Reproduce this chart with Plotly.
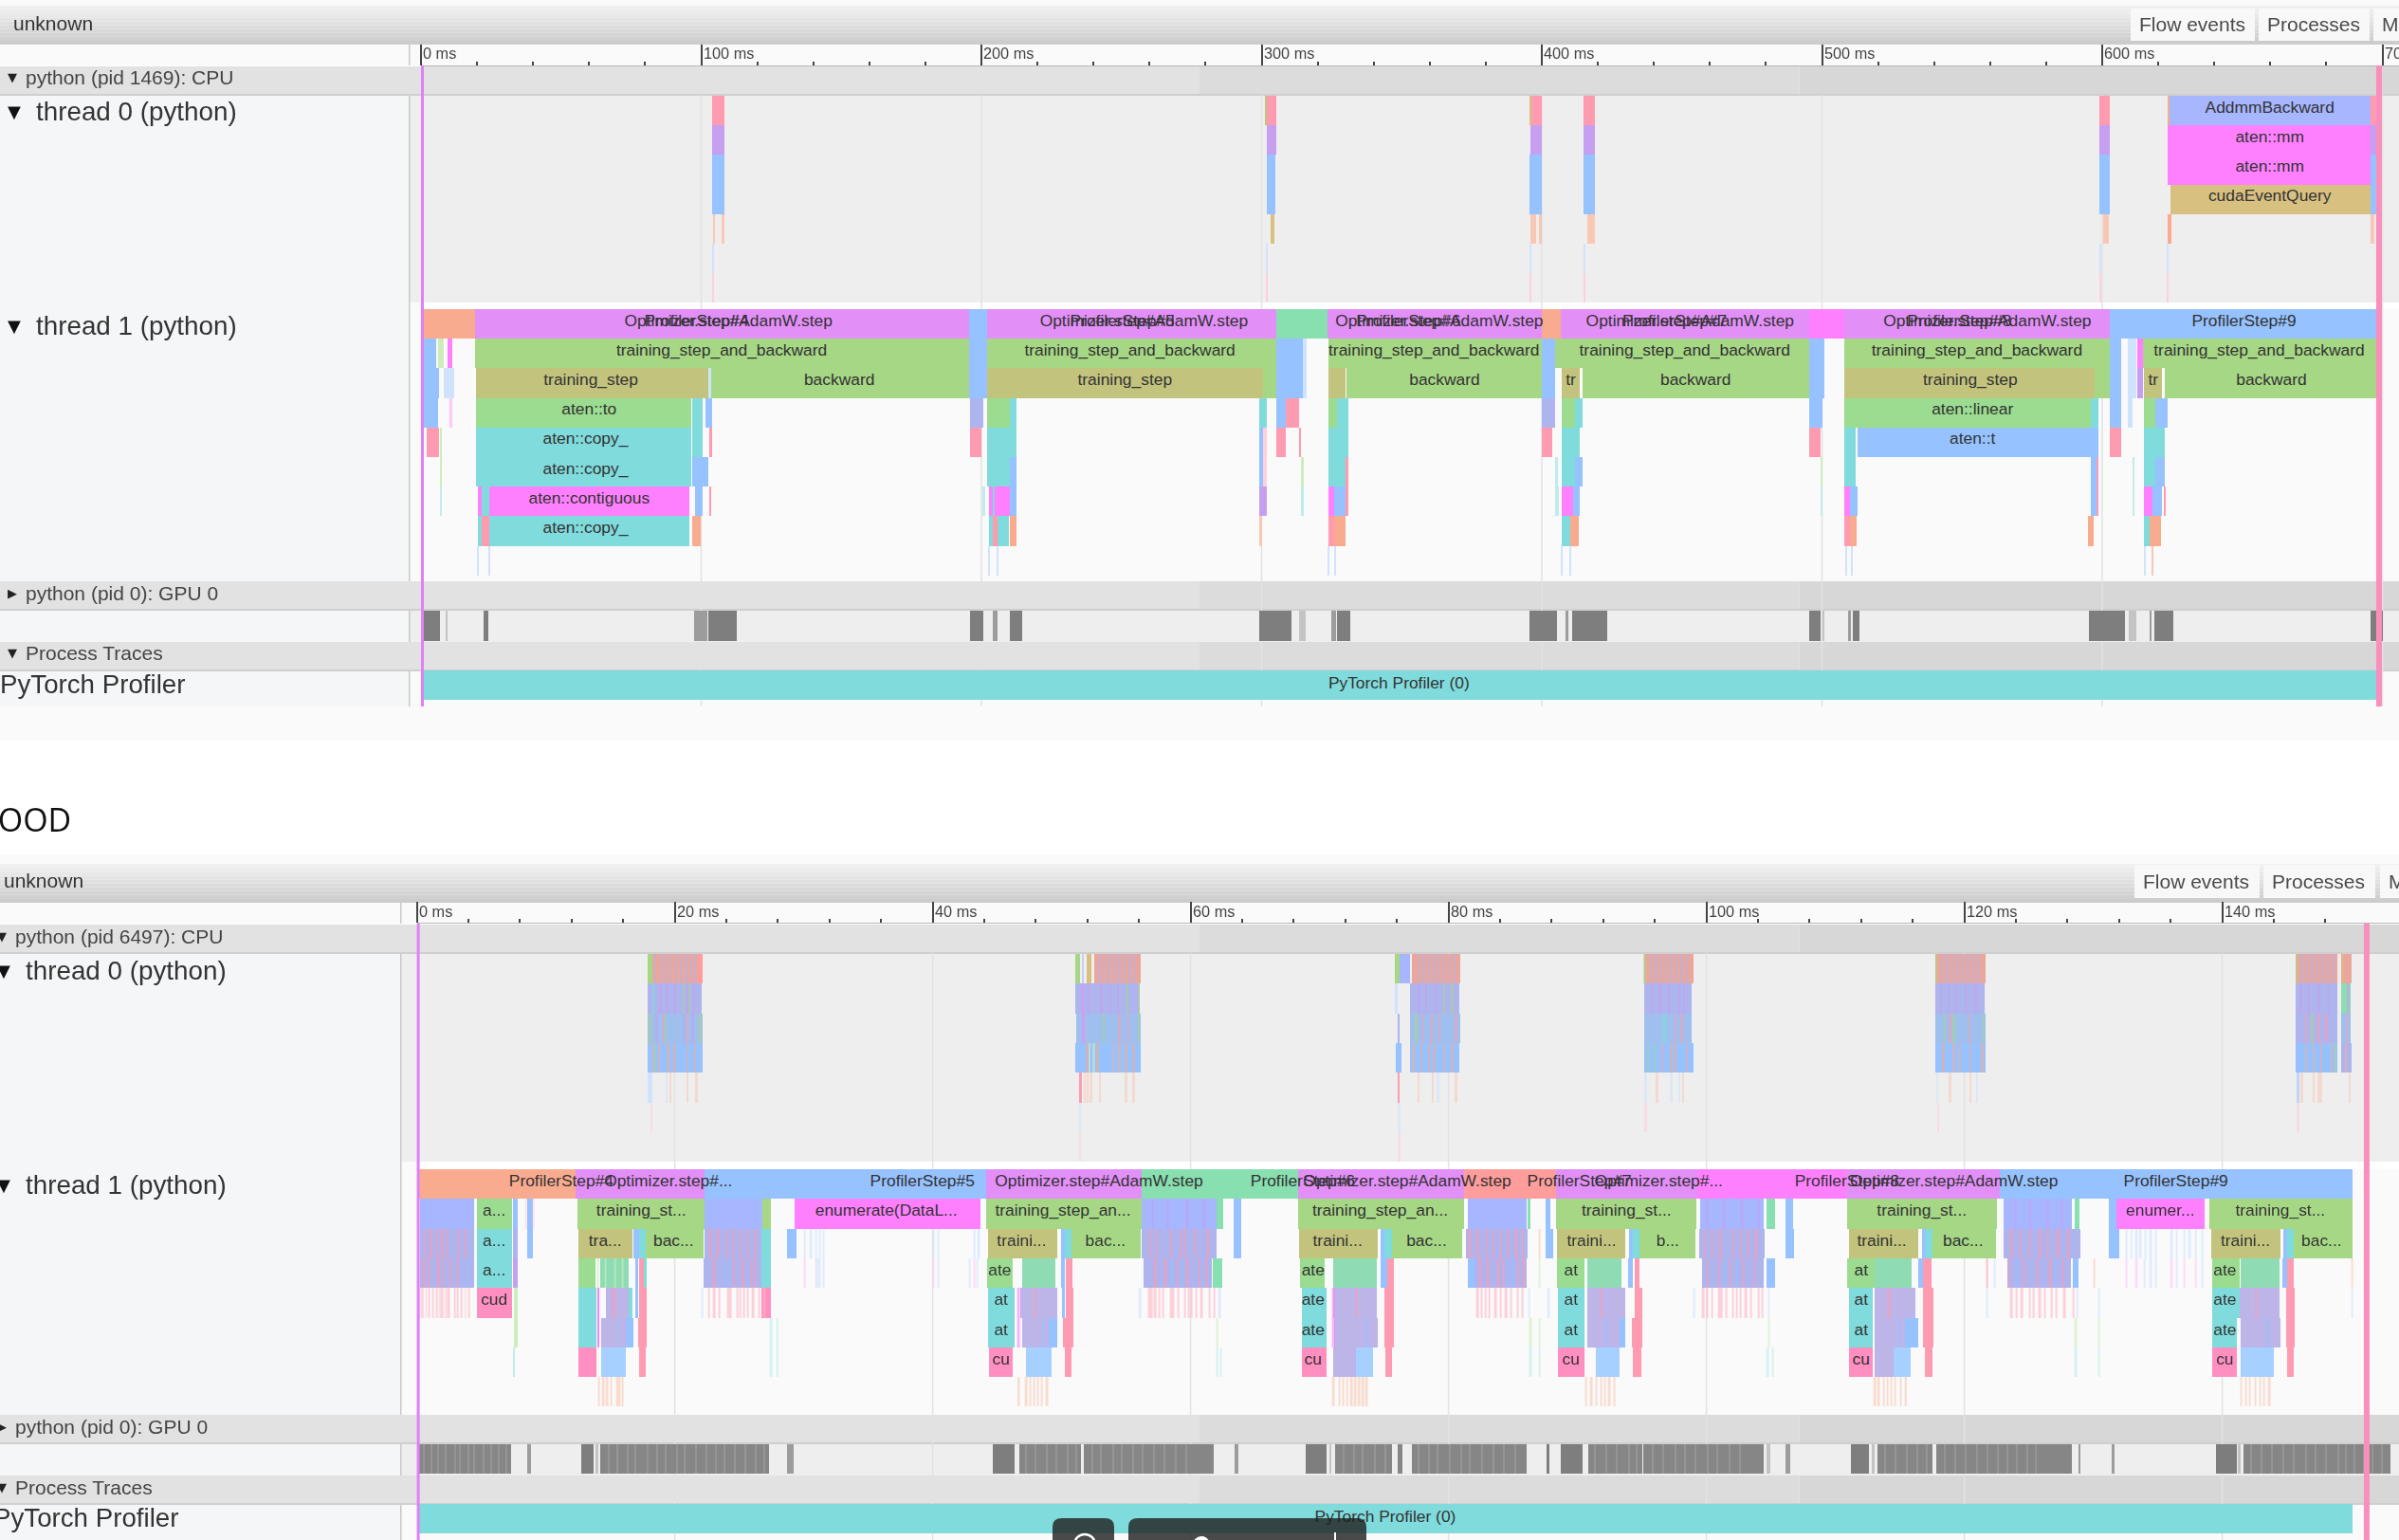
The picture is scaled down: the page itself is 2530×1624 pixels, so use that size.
'''
two chrome trace views of a pytorch profiler run, one above the other
'''
import plotly.graph_objects as go

W, H = 2530, 1624

kind_colors = {
    'blue': '#96c2ff', 'salmon': '#f9ab90', 'purple': '#e28ff8', 'magenta': '#ff80ff',
    'green': '#a6d785', 'olive': '#c2c47d', 'cyan': '#80dbdc', 'pink': '#ff9bb0',
    'mint': '#88dfb0', 'lgreen': '#9bdc90', 'dpink': '#ff8fc0', 'lav': '#a6b6ff',
    'tan': '#d8c080', 'red': '#ff9d9d', 'sky': '#a6d0ff', 'lilac': '#c79ff0',
    'salmix': '#eba79c', 'lavmix': '#aeb4ee', 'blumix': '#9fc0ee', 'mintmix': '#8fdcb4',
    'lilmix': '#bdb4e8', 'palesalm': '#f9c8b4', 'paleblue': '#cfe3ff', 'palepink': '#ffd0da',
    'softpink': '#ffb4c4', 'palemag': '#ffc8f8', 'palecyan': '#bfeceb', 'palegreen': '#cdeebb',
    'solid': '#7e7e7e', 'dense': '#868686', 'mid': '#9c9c9c', 'light': '#c4c4c4',
}

# ---- upper trace, times in ms
top_ticks = [0, 100, 200, 300, 400, 500, 600, 700]
top_tick_text = ['0 ms', '100 ms', '200 ms', '300 ms', '400 ms', '500 ms', '600 ms', '700 ms']
top_minor = [20, 40, 60, 80, 120, 140, 160, 180, 220, 240, 260, 280, 320, 340, 360, 380,
             420, 440, 460, 480, 520, 540, 560, 580, 620, 640, 660, 680]
top_selection = [0, 698.8]

top_t0_blocks = [
    (0, 'pink', 104, 108.4), (1, 'lilac', 104, 108.2), (2, 'blue', 104, 108.2), (3, 'blue', 104, 108.2),
    (4, 'palesalm', 104.2, 105), (4, 'palesalm', 107.4, 108.2), (5, 'paleblue', 104.2, 104.7), (6, 'palepink', 104.2, 104.7),
    (0, 'olive', 301.2, 301.7), (0, 'pink', 301.7, 305.2), (1, 'lilac', 301.7, 305.2), (2, 'blue', 301.7, 305), (3, 'blue', 301.7, 304.8),
    (4, 'tan', 303.3, 304.7), (5, 'paleblue', 301.7, 302.2), (6, 'palepink', 301.7, 302.2),
    (0, 'tan', 395.6, 396.2), (0, 'pink', 396.2, 399.9), (1, 'lilac', 395.9, 399.9), (2, 'blue', 395.6, 399.9), (3, 'blue', 395.6, 399.9),
    (4, 'palesalm', 395.9, 398.1), (4, 'palesalm', 399, 399.9), (5, 'paleblue', 395.9, 396.4), (6, 'palepink', 395.9, 396.4),
    (0, 'pink', 415, 418.8), (1, 'lilac', 415, 418.8), (2, 'blue', 415, 418.8), (3, 'blue', 415, 418.8),
    (4, 'palesalm', 416.4, 418.8), (5, 'paleblue', 415, 415.5), (6, 'palepink', 415, 415.5),
    (0, 'pink', 599, 602.8), (1, 'lilac', 599, 602.8), (2, 'blue', 599, 602.8), (3, 'blue', 599, 602.8),
    (4, 'palesalm', 600.2, 602.2), (5, 'paleblue', 599, 599.5), (6, 'palepink', 599, 599.5),
    (0, 'salmon', 623.2, 624), (0, 'lav', 624, 695.6), (1, 'magenta', 623.2, 695.6), (2, 'magenta', 623.2, 695.6), (3, 'tan', 624.2, 695.6),
    (4, 'salmon', 623.4, 624.6), (5, 'paleblue', 623.2, 623.7), (6, 'palepink', 623.2, 623.7),
    (0, 'pink', 695.8, 698.3), (1, 'lilac', 695.8, 698.3), (2, 'blue', 695.6, 698.3), (3, 'blue', 695.6, 698.3), (4, 'palesalm', 695.6, 697),
]
top_t0_labels = [(0, 659.8, 'AddmmBackward'), (1, 659.8, 'aten::mm'), (2, 659.8, 'aten::mm'), (3, 659.8, 'cudaEventQuery')]

top_t1_blocks = [
    # row 0
    (0, 'salmon', 0, 19.4), (0, 'purple', 19.4, 195.7), (0, 'blue', 195.7, 202), (0, 'purple', 202, 305.2),
    (0, 'mint', 305.2, 323.5), (0, 'purple', 323.5, 399.9), (0, 'salmon', 399.9, 406.8), (0, 'purple', 406.8, 495.5),
    (0, 'magenta', 495.5, 508), (0, 'purple', 508, 602.8), (0, 'blue', 602.8, 698.3),
    # row 1
    (1, 'blue', 0, 5.5), (1, 'palegreen', 6, 8.2), (1, 'magenta', 9.6, 11.2),
    (1, 'green', 19.4, 195.7), (1, 'blue', 195.7, 202), (1, 'green', 202, 305.2),
    (1, 'blue', 305.2, 314.8), (1, 'paleblue', 314.8, 316.1), (1, 'green', 323.8, 399.9),
    (1, 'blue', 399.9, 404.9), (1, 'green', 404.9, 495.5), (1, 'blue', 495.5, 501),
    (1, 'green', 508.1, 602.7), (1, 'blue', 602.7, 606.8), (1, 'paleblue', 609, 612.3),
    (1, 'magenta', 612.6, 614.5), (1, 'green', 614.5, 698.3),
    # row 2
    (2, 'blue', 0.8, 6.3), (2, 'paleblue', 8.2, 11.7),
    (2, 'olive', 19.7, 102.4), (2, 'paleblue', 102.4, 103.7), (2, 'green', 103.7, 195.7), (2, 'blue', 195.7, 202),
    (2, 'olive', 202, 300.6), (2, 'green', 300.6, 305.2), (2, 'blue', 305.2, 314.8), (2, 'paleblue', 314.8, 316.1),
    (2, 'olive', 323.8, 329.8), (2, 'green', 330.3, 399.9), (2, 'blue', 399.9, 404.9),
    (2, 'olive', 407, 413.6), (2, 'green', 414.4, 495.5), (2, 'blue', 495.5, 501),
    (2, 'olive', 508.1, 597.3), (2, 'green', 597.3, 602.7), (2, 'blue', 602.7, 606.8), (2, 'paleblue', 609, 612.3),
    (2, 'lilac', 612.6, 614.5), (2, 'olive', 615, 621.3), (2, 'green', 622.4, 698.3),
    # row 3
    (3, 'blue', 0.8, 6), (3, 'palemag', 10.1, 11.2), (3, 'lgreen', 19.7, 96.4), (3, 'cyan', 96.9, 100.5), (3, 'blue', 101.6, 104),
    (3, 'lavmix', 196, 200.7), (3, 'lgreen', 202, 210.2), (3, 'cyan', 210.2, 212.4), (3, 'cyan', 299.2, 301.7),
    (3, 'blue', 305.2, 308.5), (3, 'pink', 308.5, 313.4), (3, 'lgreen', 323.8, 327), (3, 'cyan', 327, 331.1),
    (3, 'lavmix', 399.9, 404.9), (3, 'lgreen', 407, 411.7), (3, 'cyan', 411.7, 414.4), (3, 'blue', 495.5, 500.1),
    (3, 'lgreen', 508.1, 512.6), (3, 'lgreen', 512.6, 595.9), (3, 'cyan', 595.9, 598.6), (3, 'blue', 602.7, 606.8),
    (3, 'paleblue', 609, 610.9), (3, 'lgreen', 615, 619.1), (3, 'blue', 619.1, 623.2),
    # row 4
    (4, 'pink', 1.9, 6.3), (4, 'palegreen', 6.8, 7.6), (4, 'cyan', 19.7, 96.4), (4, 'cyan', 96.9, 100.5), (4, 'pink', 102.9, 104),
    (4, 'pink', 196, 200.1), (4, 'cyan', 202, 212.4), (4, 'blue', 299.2, 301.7), (4, 'palepink', 300.6, 301.7),
    (4, 'pink', 305.2, 308.5), (4, 'pink', 313.4, 314.2), (4, 'cyan', 323.8, 331.1), (4, 'pink', 399.9, 403.8),
    (4, 'cyan', 407, 413.6), (4, 'pink', 495.5, 499.6), (4, 'cyan', 508.1, 512.1), (4, 'blue', 512.6, 595.9),
    (4, 'blue', 595.9, 598.6), (4, 'pink', 602.7, 606.8), (4, 'cyan', 615, 622.4),
    # row 5
    (5, 'palegreen', 6.8, 7.6), (5, 'cyan', 19.7, 96.4), (5, 'blue', 96.9, 102.4), (5, 'cyan', 202, 210.2), (5, 'blue', 210.2, 212.4),
    (5, 'blue', 299.2, 301.7), (5, 'palepink', 300.6, 301.7), (5, 'palegreen', 314.2, 315), (5, 'cyan', 323.8, 329.8),
    (5, 'pink', 329.8, 331.1), (5, 'palecyan', 404.9, 405.6), (5, 'cyan', 407, 411.7), (5, 'blue', 411.7, 414.4),
    (5, 'palegreen', 499.6, 500.3), (5, 'cyan', 508.1, 512.1), (5, 'blue', 595.9, 597.8), (5, 'pink', 597.8, 598.6),
    (5, 'palecyan', 610.9, 611.6), (5, 'cyan', 615, 619.1), (5, 'blue', 619.1, 622.4),
    # row 6
    (6, 'palecyan', 6.8, 7.6), (6, 'magenta', 20.2, 21.8), (6, 'cyan', 21.8, 24.3), (6, 'magenta', 24.3, 95.8), (6, 'blue', 97.7, 100.5),
    (6, 'pink', 102.9, 103.7), (6, 'palecyan', 200.4, 201.2), (6, 'magenta', 202.6, 204.2), (6, 'cyan', 204.2, 204.7),
    (6, 'magenta', 204.7, 210.2), (6, 'blue', 210.2, 212.4), (6, 'lilac', 299.2, 301.7), (6, 'palecyan', 314.2, 315),
    (6, 'magenta', 323.8, 326), (6, 'blue', 326, 329.8), (6, 'pink', 329.8, 331.1), (6, 'palecyan', 404.9, 406.2),
    (6, 'magenta', 407, 411), (6, 'blue', 411, 413.6), (6, 'palecyan', 499.6, 500.3), (6, 'magenta', 508.1, 510),
    (6, 'blue', 510, 512.6), (6, 'blue', 595.9, 597.8), (6, 'pink', 597.8, 598.6), (6, 'palecyan', 610.9, 611.6),
    (6, 'magenta', 615, 618), (6, 'blue', 618, 621.3), (6, 'pink', 622, 622.8),
    # row 7
    (7, 'cyan', 20.2, 21.8), (7, 'pink', 21.8, 24.3), (7, 'cyan', 24.3, 95.8), (7, 'salmon', 96.9, 99.9),
    (7, 'cyan', 202.6, 204.2), (7, 'pink', 204.2, 205.6), (7, 'cyan', 205.6, 209.7), (7, 'salmon', 210.2, 212.4),
    (7, 'palesalm', 299.2, 300), (7, 'pink', 323.8, 326), (7, 'salmon', 326, 329.8), (7, 'cyan', 407, 410.1),
    (7, 'salmon', 410.1, 413.3), (7, 'pink', 508.1, 510), (7, 'salmon', 510, 512.4), (7, 'salmon', 595, 597),
    (7, 'cyan', 615, 617), (7, 'salmon', 617, 621),
    # row 8
    (8, 'paleblue', 20.2, 20.7), (8, 'paleblue', 24.3, 24.8), (8, 'paleblue', 202.4, 202.9), (8, 'paleblue', 205.6, 206.1),
    (8, 'paleblue', 323.8, 324.3), (8, 'paleblue', 325.9, 326.4), (8, 'paleblue', 407, 407.5), (8, 'paleblue', 410.1, 410.6),
    (8, 'paleblue', 508.3, 508.8), (8, 'paleblue', 510.5, 511), (8, 'paleblue', 615, 615.5), (8, 'palesalm', 617.8, 618.3),
]
top_t1_labels = [
    (0, 98.3, 'ProfilerStep#4'), (0, 109.7, 'Optimizer.step#AdamW.step'), (0, 250.3, 'ProfilerStep#5'),
    (0, 258, 'Optimizer.step#AdamW.step'), (0, 352.4, 'ProfilerStep#6'), (0, 363.4, 'Optimizer.step#AdamW.step'),
    (0, 447.4, 'ProfilerStep#7'), (0, 452.9, 'Optimizer.step#AdamW.step'), (0, 549, 'ProfilerStep#8'),
    (0, 559, 'Optimizer.step#AdamW.step'), (0, 650.6, 'ProfilerStep#9'),
    (1, 107.3, 'training_step_and_backward'), (1, 253, 'training_step_and_backward'), (1, 361.5, 'training_step_and_backward'),
    (1, 451, 'training_step_and_backward'), (1, 555.3, 'training_step_and_backward'), (1, 656, 'training_step_and_backward'),
    (2, 60.6, 'training_step'), (2, 149.3, 'backward'), (2, 251.2, 'training_step'), (2, 365.3, 'backward'),
    (2, 410.3, 'tr'), (2, 454.9, 'backward'), (2, 552.9, 'training_step'), (2, 618.2, 'tr'), (2, 660.4, 'backward'),
    (3, 60, 'aten::to'), (3, 553.7, 'aten::linear'), (4, 58.7, 'aten::copy_'), (4, 553.7, 'aten::t'),
    (5, 58.7, 'aten::copy_'), (6, 60, 'aten::contiguous'), (7, 58.7, 'aten::copy_'),
]
top_gpu_blocks = [
    ('solid', 0, 6.6), ('light', 9, 9.4), ('solid', 22.4, 24), ('mid', 97.5, 102.1), ('solid', 102.4, 112.7),
    ('solid', 196, 200.7), ('mid', 204.2, 205.6), ('solid', 210.2, 214.6), ('solid', 299.2, 310.7), ('light', 313.4, 315.6),
    ('mid', 324.9, 326.5), ('solid', 327, 331.7), ('solid', 395.6, 405.5), ('mid', 408.5, 409.5), ('solid', 410.9, 423.5),
    ('solid', 495.5, 499.6), ('light', 500.4, 501), ('mid', 509.4, 510.4), ('solid', 511, 513.2), ('solid', 595.4, 608.2),
    ('light', 609.6, 612.3), ('mid', 616.9, 617.7), ('solid', 618.6, 625.4), ('solid', 695.6, 700.2),
]
top_trace_span = [0, 698.3]
top_trace_label = (349, 'PyTorch Profiler (0)')

# ---- lower trace, times in ms
bot_ticks = [0, 20, 40, 60, 80, 100, 120, 140]
bot_tick_text = ['0 ms', '20 ms', '40 ms', '60 ms', '80 ms', '100 ms', '120 ms', '140 ms']
bot_minor = [4, 8, 12, 16, 24, 28, 32, 36, 44, 48, 52, 56, 64, 68, 72, 76, 84, 88, 92, 96,
             104, 108, 112, 116, 124, 128, 132, 136, 144, 148]
bot_selection = [0, 151.2]

bot_t0_blocks = [
    (0, 'green', 17.85, 18.2), (0, 'salmix', 18.2, 21.8), (0, 'red', 21.8, 22.1), (1, 'lavmix', 17.9, 22.05), (2, 'blumix', 17.9, 22.1), (3, 'blue', 17.9, 22.1),
    (4, 'paleblue', 17.9, 18.2),
    (0, 'green', 51.02, 51.4), (0, 'tan', 51.9, 52.3), (0, 'salmix', 52.5, 56.09), (1, 'lavmix', 51.02, 56.05), (2, 'blumix', 51.1, 56.09), (3, 'blue', 51.02, 56.09),
    (4, 'pink', 51.3, 51.55),
    (0, 'green', 75.84, 76.2), (0, 'lav', 76.2, 77), (0, 'salmix', 77.1, 80.88), (1, 'paleblue', 75.84, 76.05), (1, 'lavmix', 77, 80.8), (2, 'lavmix', 76, 76.2), (2, 'blumix', 77, 80.85),
    (3, 'blue', 75.9, 76.3), (3, 'blue', 77, 80.8), (4, 'pink', 76, 76.2),
    (0, 'salmix', 95.14, 98.95), (1, 'lavmix', 95.14, 98.85), (2, 'blumix', 95.14, 98.85), (3, 'blue', 95.14, 98.95),
    (0, 'salmix', 117.73, 121.6), (1, 'lavmix', 117.73, 121.55), (2, 'blumix', 117.73, 121.6), (3, 'blue', 117.73, 121.6),
    (0, 'salmix', 145.68, 148.91), (1, 'lavmix', 145.68, 148.91), (2, 'lavmix', 145.68, 148.91), (3, 'blue', 145.68, 148.91),
    (0, 'salmix', 149.16, 149.98), (1, 'mintmix', 149.16, 149.9), (2, 'blumix', 149.16, 149.9), (3, 'lavmix', 149.16, 149.98),
]
bot_t0_stripes = [
    (0, 'lavmix', [18.4, 18.9, 19.2, 19.6, 20.0, 20.4, 20.8, 21.2, 21.5]),
    (1, 'cyan', [18.3]), (1, 'green', [20.6, 21.0]), (1, 'lilac', [18.8, 19.3, 19.9, 20.9, 21.4]),
    (2, 'green', [18.0, 19.2, 21.9]), (2, 'pink', [19.0, 20.9]), (2, 'lilac', [18.5, 20.6, 21.3]),
    (3, 'salmon', [18.2, 18.7, 19.4, 19.9, 20.9, 21.5]), (3, 'green', [18.4]),
    (4, 'paleblue', [19.3]), (4, 'palesalm', [19.6, 20.9, 21.6]), (5, 'palepink', [18.1]),
    # second group
    (0, 'lavmix', [52.8, 53.2, 53.6, 54.0, 54.4, 54.8, 55.2, 55.6]), (0, 'lav', [51.55]), (1, 'magenta', [51.55]), (1, 'green', [55.0, 55.9]),
    (1, 'lilac', [52.0, 53.0, 53.7, 54.3]), (2, 'magenta', [51.6]), (2, 'green', [53.2, 55.9]), (2, 'pink', [54.4, 55.1]),
    (3, 'salmon', [51.9, 52.7, 53.9, 54.4, 54.9, 55.5]), (3, 'palegreen', [52.1, 52.4]), (4, 'palesalm', [51.7, 51.95, 52.2, 52.9, 54.9, 55.5]),
    (5, 'paleblue', [51.35]), (6, 'palepink', [51.35]),
    # third group
    (0, 'lavmix', [77.6, 78.0, 78.4, 78.8, 79.2, 79.6, 80.0, 80.4]), (1, 'green', [79.6, 80.2]), (1, 'lilac', [77.6, 78.2, 78.9]),
    (2, 'pink', [77.9, 78.6, 79.2, 80.5]), (2, 'green', [77.4]), (3, 'salmon', [77.2, 77.8, 78.4, 78.8, 79.6, 80.2]),
    (4, 'palesalm', [77.6, 78.7, 80.5]), (4, 'paleblue', [79.1]), (5, 'paleblue', [76.1]), (6, 'palepink', [76.1]),
    # fourth group
    (0, 'lavmix', [95.6, 96.0, 96.4, 96.8, 97.2, 97.6, 98.0, 98.4]), (0, 'green', [95.14]), (1, 'lilac', [95.7, 96.3, 97.0, 97.8, 98.2]),
    (2, 'pink', [97.5, 98.0]), (2, 'cyan', [96.6, 96.8]), (3, 'salmon', [96.5, 97.2, 97.5, 98.4]), (3, 'green', [95.4, 95.9]),
    (4, 'paleblue', [95.2, 97.2, 97.8]), (4, 'palesalm', [96.1, 98.1]), (5, 'palepink', [95.2]),
    # fifth group
    (0, 'lavmix', [118.2, 118.6, 119, 119.4, 119.8, 120.2, 120.6, 121]), (0, 'green', [117.73]), (1, 'lilac', [118.1, 118.7, 119.3, 120, 120.8]),
    (2, 'green', [118.4, 119.1, 121.4]), (2, 'pink', [118.8, 120.3]), (3, 'salmon', [118.3, 119.1, 119.6, 120.4, 121.3]),
    (4, 'paleblue', [117.8, 120.9]), (4, 'palesalm', [118.8, 120.4]), (5, 'palepink', [117.9]),
    # last group
    (0, 'lavmix', [146.1, 146.5, 146.9, 147.3, 147.7, 148.1, 148.5]), (0, 'green', [145.68]), (1, 'lilac', [146, 146.6, 147.4, 148.2]),
    (2, 'pink', [146.4, 147.4, 148]), (2, 'green', [146.9]), (3, 'salmon', [146.4, 147, 147.6, 148.4, 149.5]),
    (3, 'green', [148.7]), (0, 'tan', [149.3]), (1, 'lilac', [149.7]), (2, 'pink', [149.6]),
    (4, 'blue', [145.8]), (4, 'palesalm', [146.1, 147, 147.4, 147.6, 149.8]), (5, 'palepink', [145.8]),
]

bot_t1_blocks = [
    # row 0
    (0, 'salmon', 0, 12.3), (0, 'purple', 12.3, 22.3), (0, 'blue', 22.3, 44.1), (0, 'purple', 44.1, 56.2),
    (0, 'mint', 56.2, 68.3), (0, 'purple', 68.3, 81.2), (0, 'red', 81.2, 88.3), (0, 'purple', 88.3, 99.3),
    (0, 'magenta', 99.3, 110.8), (0, 'purple', 110.8, 122.75), (0, 'blue', 122.75, 150.1),
    # row 1
    (1, 'lav', 0.2, 4.4), (1, 'lgreen', 4.6, 7.35), (1, 'blue', 7.4, 7.8), (1, 'blue', 8.5, 9.0),
    (1, 'green', 12.4, 22.3), (1, 'lav', 22.3, 26.75), (1, 'green', 26.75, 27.4), (1, 'magenta', 29.3, 43.67),
    (1, 'green', 44.1, 56.2), (1, 'lav', 56.2, 62), (1, 'mint', 62, 62.5), (1, 'blue', 63.3, 63.9),
    (1, 'green', 68.3, 81.2), (1, 'lav', 81.5, 86), (1, 'mint', 86.1, 86.3), (1, 'blue', 87.5, 87.9),
    (1, 'green', 88.3, 99.2), (1, 'lav', 99.5, 104.4), (1, 'mint', 104.6, 105.3), (1, 'blue', 106.1, 106.7),
    (1, 'green', 110.9, 122.5), (1, 'lav', 123, 128.3), (1, 'mint', 128.5, 128.9), (1, 'blue', 131.2, 131.8),
    (1, 'magenta', 131.8, 138.6), (1, 'green', 139, 150.1),
    # row 2
    (2, 'lavmix', 0.2, 4.4), (2, 'cyan', 4.6, 7.35), (2, 'lavmix', 7.4, 7.8), (2, 'blue', 8.5, 9.0),
    (2, 'olive', 12.5, 16.7), (2, 'blue', 16.8, 17.2), (2, 'cyan', 17.2, 17.7), (2, 'green', 17.7, 22.2),
    (2, 'lavmix', 22.3, 26.7), (2, 'cyan', 26.7, 27.4), (2, 'blue', 28.7, 29.4),
    (2, 'olive', 44.3, 49.6), (2, 'blue', 49.9, 50.2), (2, 'cyan', 50.2, 50.7), (2, 'green', 50.7, 56.1),
    (2, 'lavmix', 56.2, 62), (2, 'blue', 63.3, 63.9), (2, 'olive', 68.4, 74.5), (2, 'blue', 74.7, 75), (2, 'cyan', 75, 75.6), (2, 'green', 75.6, 81),
    (2, 'lavmix', 81.3, 86.1), (2, 'blue', 87.5, 88.1), (2, 'olive', 88.4, 93.7), (2, 'blue', 94, 94.3), (2, 'cyan', 94.3, 94.8), (2, 'green', 94.8, 99.1),
    (2, 'lavmix', 99.4, 104.5), (2, 'blue', 106.1, 106.8), (2, 'olive', 111, 116.4), (2, 'blue', 116.7, 117), (2, 'cyan', 117, 117.5), (2, 'green', 117.5, 122.4),
    (2, 'lavmix', 123, 129), (2, 'blue', 131.2, 132), (2, 'olive', 139.1, 144.5), (2, 'blue', 144.7, 145), (2, 'cyan', 145, 145.5), (2, 'green', 145.5, 150.1),
    # row 3
    (3, 'lavmix', 0.2, 4.4), (3, 'cyan', 4.6, 7.35), (3, 'lilac', 7.4, 7.8),
    (3, 'lgreen', 12.5, 13.8), (3, 'mintmix', 14.2, 16.4), (3, 'blue', 16.9, 17.1), (3, 'pink', 17.2, 17.6), (3, 'cyan', 17.6, 17.8),
    (3, 'lavmix', 22.2, 26.7), (3, 'cyan', 26.7, 27.4), (3, 'lgreen', 44.2, 46.2), (3, 'mintmix', 46.9, 49.5), (3, 'blue', 49.9, 50.2), (3, 'pink', 50.3, 50.8),
    (3, 'lavmix', 56.3, 61.6), (3, 'mint', 61.7, 62.4), (3, 'lgreen', 68.45, 70.4), (3, 'mintmix', 71, 74.4), (3, 'blue', 74.7, 75.2), (3, 'pink', 75.2, 75.7),
    (3, 'blue', 81.5, 82), (3, 'lavmix', 82, 86), (3, 'lgreen', 88.4, 90.5), (3, 'mintmix', 90.7, 93.4), (3, 'blue', 93.9, 94.3), (3, 'pink', 94.4, 94.8),
    (3, 'lavmix', 99.6, 104.4), (3, 'blue', 104.6, 105.3), (3, 'lgreen', 110.9, 113), (3, 'mintmix', 113, 115.9), (3, 'blue', 116.4, 116.8), (3, 'pink', 116.8, 117.4),
    (3, 'lavmix', 123.3, 128.2), (3, 'blue', 128.4, 128.8), (3, 'lgreen', 139.2, 141.3), (3, 'mintmix', 141.4, 144.4), (3, 'blue', 144.6, 145), (3, 'pink', 145, 145.5),
    # row 4
    (4, 'dpink', 4.6, 7.35), (4, 'palegreen', 7.5, 7.8), (4, 'cyan', 12.47, 13.9), (4, 'magenta', 14.0, 14.15), (4, 'lilmix', 14.6, 16.4), (4, 'cyan', 16.4, 16.7), (4, 'blue', 16.9, 17.1), (4, 'pink', 17.2, 17.8),
    (4, 'dpink', 26.7, 27.4), (4, 'cyan', 44.3, 46.3), (4, 'lilmix', 46.8, 49.6), (4, 'blue', 50, 50.2), (4, 'pink', 50.3, 50.9),
    (4, 'cyan', 68.6, 70.5), (4, 'lilmix', 71, 74.4), (4, 'pink', 75, 75.7), (4, 'cyan', 88.45, 90.5), (4, 'lilmix', 90.7, 93.7), (4, 'pink', 94.4, 95),
    (4, 'cyan', 111, 112.9), (4, 'lilmix', 113, 116.2), (4, 'pink', 116.8, 117.6), (4, 'cyan', 139.2, 141.3), (4, 'lilmix', 141.3, 144.4), (4, 'pink', 144.9, 145.6),
    # row 5
    (5, 'palegreen', 7.5, 7.8), (5, 'cyan', 12.47, 13.9), (5, 'magenta', 14.0, 14.15), (5, 'lilmix', 14.3, 16.2), (5, 'blue', 16.2, 16.75), (5, 'pink', 17.1, 17.8),
    (5, 'cyan', 44.3, 46.3), (5, 'lilmix', 46.9, 49), (5, 'blue', 49, 49.6), (5, 'pink', 50.1, 50.9), (5, 'cyan', 68.6, 70.5), (5, 'lilmix', 71.1, 74.5), (5, 'pink', 75, 75.7),
    (5, 'cyan', 88.45, 90.5), (5, 'lilmix', 90.7, 93.2), (5, 'blue', 93.2, 93.7), (5, 'pink', 94.2, 95), (5, 'cyan', 111, 112.9), (5, 'lilmix', 113, 115.4), (5, 'blue', 115.4, 116.4), (5, 'pink', 116.8, 117.6),
    (5, 'cyan', 139.2, 141.1), (5, 'lilmix', 141.4, 144.5), (5, 'pink', 144.9, 145.6),
    # row 6
    (6, 'palecyan', 7.4, 7.6), (6, 'dpink', 12.47, 13.9), (6, 'sky', 14.3, 16.2), (6, 'pink', 17.2, 17.7), (6, 'dpink', 44.35, 46.2), (6, 'sky', 47.2, 49.2), (6, 'pink', 50.25, 50.75),
    (6, 'dpink', 68.6, 70.5), (6, 'lilmix', 71, 72.8), (6, 'sky', 72.8, 74.1), (6, 'pink', 75.1, 75.6), (6, 'dpink', 88.45, 90.5), (6, 'sky', 91.4, 93.2), (6, 'pink', 94.3, 94.9),
    (6, 'dpink', 111, 112.9), (6, 'lilmix', 113, 114.5), (6, 'sky', 114.5, 115.8), (6, 'pink', 116.9, 117.5), (6, 'dpink', 139.2, 141.1), (6, 'sky', 141.4, 144), (6, 'pink', 145, 145.5),
]
bot_t1_stripes = [
    (4, 'softpink', [0.4, 0.9, 1.2, 1.5, 1.9, 2.4, 2.9, 3.1, 3.4, 4.0]), (4, 'palepink', [0.2, 0.7, 1.7, 2.2, 3.7]),
    (2, 'pink', [0.6, 1.0, 1.5, 1.9, 2.3, 3.2, 3.7]), (3, 'pink', [0.5, 0.9, 1.6, 2.0, 2.5, 3.1]), (3, 'blue', [3.4, 3.9]),
    (5, 'palegreen', [7.6]), (1, 'palepink', [8.4, 9.0]),
    (2, 'pink', [22.7, 23.3, 24.0, 24.5, 25.0, 25.6, 26.2]), (3, 'pink', [23.0, 24.5, 25.2, 25.9, 26.2]), (3, 'blue', [23.9, 24.2]),
    (4, 'softpink', [22.6, 23, 23.4, 24.1, 24.3, 24.8, 25.0, 25.3, 25.6, 26.0, 26.5, 26.9]), (4, 'paleblue', [22.1]),
    (5, 'palecyan', [27.4, 27.9]), (6, 'palecyan', [27.4, 27.9]), (2, 'paleblue', [30, 30.5, 30.9, 31.2, 31.5, 40, 40.4]),
    (3, 'palemag', [30, 30.9, 40]), (3, 'paleblue', [31, 31.2, 31.5, 40.4]),
    (3, 'paleblue', [42.8, 43.4]), (2, 'paleblue', [43.2, 43.5]), (3, 'palemag', [43.2]),
    (1, 'lilac', [57, 58.2, 59.7, 61]), (2, 'pink', [56.8, 57.3, 58.4, 59.2, 59.5, 60.3, 61.3]), (3, 'pink', [57.2, 58, 58.9, 59.7, 60.6, 61.2]),
    (3, 'blue', [58.5, 59.3]), (4, 'softpink', [56.7, 56.9, 57.2, 57.5, 57.8, 58.4, 58.6, 59, 59.5, 59.8, 60, 60.4, 60.8, 61.4, 61.8]),
    (4, 'paleblue', [56, 62.2]), (5, 'palegreen', [62]), (6, 'palecyan', [62, 62.3]),
    (2, 'pink', [81.6, 82.2, 82.9, 83.4, 84, 84.6, 85.2, 85.7]), (3, 'pink', [82.4, 83, 83.8, 84.2, 85.3, 85.8]), (3, 'blue', [84.5, 84.9]),
    (4, 'softpink', [82.2, 82.5, 82.8, 83.1, 83.6, 84, 84.4, 84.8, 85.3, 85.7]), (4, 'paleblue', [86.2, 87.7]),
    (5, 'palegreen', [86.3, 87]), (6, 'palecyan', [86.3, 87]), (3, 'palegreen', [87]), (2, 'palesalm', [87]),
    (1, 'lilac', [100, 101.3, 102.7, 104]), (2, 'pink', [99.8, 100.4, 101, 102, 102.6, 103.2, 103.8]), (3, 'pink', [100, 100.9, 101.8, 102.8, 103.7]),
    (3, 'blue', [101.4, 102.3]), (4, 'softpink', [99.7, 100, 100.4, 100.9, 101.1, 101.5, 102, 102.3, 102.6, 103, 103.4, 104, 104.3]),
    (4, 'paleblue', [99, 104.8]), (5, 'palegreen', [104.8]), (6, 'palecyan', [104.7, 105.1]),
    (1, 'lilac', [123.9, 125, 126.4, 127.5]), (2, 'pink', [123.6, 124.3, 125, 125.8, 126.4, 127.2, 128]), (3, 'pink', [123.4, 124.6, 125.6, 126.6, 127.6]),
    (3, 'blue', [124, 127]), (4, 'softpink', [123.6, 124, 124.4, 125, 125.3, 125.8, 126.2, 126.7, 127.1, 127.7, 128.4]),
    (4, 'paleblue', [121.7, 128.7, 130.4]), (3, 'pink', [121.7]), (3, 'paleblue', [122.3]), (3, 'palesalm', [130]),
    (5, 'palegreen', [128.6, 130.4]), (6, 'palecyan', [128.6, 130.4]),
    (2, 'paleblue', [132.5, 132.9, 133.3, 133.6, 134, 134.4, 134.8, 136, 136.4, 137, 137.4, 137.9, 138.4]),
    (3, 'palemag', [132.5, 133.3, 136, 137, 137.9]), (3, 'paleblue', [133.9, 134.4, 134.8, 136.4, 138.4]),
    (3, 'palesalm', [150]), (4, 'paleblue', [150]),
    # salmon fringes under the training steps
    (7, 'palesalm', [14.05, 14.4, 14.7, 15.0, 15.5, 15.7, 15.9]), (7, 'palesalm', [46.6, 47.2, 47.5, 47.8, 48.1, 48.4, 48.8]),
    (7, 'palesalm', [71, 71.5, 71.8, 72.1, 72.4, 72.7, 73, 73.3, 73.6]), (7, 'palesalm', [90.6, 91.0, 91.4, 91.8, 92.1, 92.4, 92.8]),
    (7, 'palesalm', [113, 113.3, 113.7, 114, 114.3, 114.6, 115, 115.4]), (7, 'palesalm', [141.4, 141.8, 142.1, 142.5, 142.9, 143.2, 143.6]),
    # blue and lilac streaks through the training steps
    (3, 'palegreen', [14.0, 14.6, 15.3, 15.9]), (4, 'magenta', [46.6]), (5, 'magenta', [46.6]), (4, 'magenta', [71]), (5, 'magenta', [71]),
    (4, 'pink', [15.2, 47.9, 72.8, 91.8, 114.1, 142.6]), (5, 'blue', [15.6, 48.5, 73.6, 92.2, 114.9, 143.5]),
]
bot_t1_labels = [
    (0, 11.2, 'ProfilerStep#4'), (0, 19.5, 'Optimizer.step#...'), (0, 39.2, 'ProfilerStep#5'), (0, 52.9, 'Optimizer.step#AdamW.step'),
    (0, 68.7, 'ProfilerStep#6'), (0, 76.8, 'Optimizer.step#AdamW.step'), (0, 90.15, 'ProfilerStep#7'), (0, 96.3, 'Optimizer.step#...'),
    (0, 110.9, 'ProfilerStep#8'), (0, 119.2, 'Optimizer.step#AdamW.step'), (0, 136.4, 'ProfilerStep#9'),
    (1, 6, 'a...'), (2, 6, 'a...'), (3, 6, 'a...'), (4, 6, 'cud'),
    (1, 17.4, 'training_st...'), (2, 14.6, 'tra...'), (2, 19.9, 'bac...'), (1, 36.4, 'enumerate(DataL...'),
    (1, 50.1, 'training_step_an...'), (2, 46.9, 'traini...'), (2, 53.4, 'bac...'), (3, 45.2, 'ate'), (4, 45.3, 'at'), (5, 45.3, 'at'), (6, 45.3, 'cu'),
    (1, 74.7, 'training_step_an...'), (2, 71.4, 'traini...'), (2, 78.3, 'bac...'), (3, 69.5, 'ate'), (4, 69.5, 'ate'), (5, 69.5, 'ate'), (6, 69.5, 'cu'),
    (1, 93.8, 'training_st...'), (2, 91.1, 'traini...'), (2, 97, 'b...'), (3, 89.5, 'at'), (4, 89.5, 'at'), (5, 89.5, 'at'), (6, 89.5, 'cu'),
    (1, 116.7, 'training_st...'), (2, 113.6, 'traini...'), (2, 119.9, 'bac...'), (3, 112, 'at'), (4, 112, 'at'), (5, 112, 'at'), (6, 112, 'cu'),
    (1, 135.2, 'enumer...'), (1, 144.5, 'training_st...'), (2, 141.8, 'traini...'), (2, 147.7, 'bac...'), (3, 140.2, 'ate'), (4, 140.2, 'ate'), (5, 140.2, 'ate'), (6, 140.2, 'cu'),
]
bot_gpu_blocks = [
    ('dense', 0, 7.3), ('mid', 8.5, 8.85), ('solid', 12.7, 13.7), ('light', 13.8, 14.05), ('dense', 14.2, 27.3), ('mid', 28.7, 29.2),
    ('solid', 44.6, 46.3), ('dense', 46.7, 51.5), ('dense', 51.7, 61.8), ('mid', 63.4, 63.7), ('solid', 68.9, 70.5), ('light', 70.7, 70.9),
    ('dense', 71.2, 75.6), ('dense', 76, 76.4), ('dense', 77.1, 86), ('solid', 87.55, 87.8), ('solid', 88.7, 90.4), ('dense', 90.8, 95),
    ('dense', 95.1, 104.4), ('light', 104.6, 104.9), ('mid', 106.1, 106.5), ('solid', 111.2, 112.6), ('light', 112.8, 113), ('dense', 113.2, 117.5),
    ('dense', 117.8, 128.3), ('mid', 128.8, 129), ('mid', 131.4, 131.6), ('solid', 139.5, 141.1), ('light', 141.2, 141.4), ('dense', 141.6, 153),
]
# paler lines seen inside the dense gpu runs
bot_gpu_lines = [
    (0, 'mid', [0.5, 1.1, 1.6, 2.2, 2.9, 3.3, 3.9, 4.4, 5.1, 5.7, 6.3, 6.9, 14.8, 15.5, 16.3, 16.9, 17.8, 18.6, 19.2, 20.1,
                20.7, 21.6, 22.4, 23.1, 23.8, 24.6, 25.4, 26.2, 26.9, 47.2, 47.9, 48.8, 49.5, 50.4, 51.1, 52.3, 53, 53.9, 54.6, 55.5,
                56.2, 57.1, 57.9, 58.8, 59.6, 71.8, 72.6, 73.3, 74.2, 75, 77.6, 78.4, 79.1, 80, 80.9, 81.6, 82.5, 83.4, 84.2, 85.1,
                91.3, 92.2, 93, 93.9, 94.5, 95.8, 96.6, 97.5, 98.3, 99.1, 100, 100.8, 101.7, 102.5, 113.8, 114.6, 115.5, 116.3, 117,
                118.4, 119.2, 120, 120.9, 121.7, 122.5, 123.3, 124, 124.8, 125.5, 142.2, 143, 143.8, 144.7, 145.5, 146.4, 147.2,
                148, 148.9, 149.5, 150.2, 150.9, 151.6, 152.3])
]
bot_trace_span = [0, 150.1]
bot_trace_label = (75.1, 'PyTorch Profiler (0)')


def px(x):
    return x / W


def py(y):
    return 1 - y / H


def rect(x0, y0, x1, y1, color):
    return dict(type='rect', xref='paper', yref='paper', x0=px(x0), x1=px(x1), y0=py(y0), y1=py(y1),
                fillcolor=color, line_width=0, layer='below')


def note(x, y, text, size, color='#444444', anchor='left', family='Liberation Sans'):
    return dict(xref='paper', yref='paper', x=px(x), y=py(y), text=text, showarrow=False, xanchor=anchor, yanchor='middle',
                font=dict(size=size, color=color, family=family), borderpad=0, borderwidth=0)


def bars(blocks, xaxis, yaxis, opacity=1):
    return go.Bar(y=[b[0] for b in blocks], base=[b[2] for b in blocks], x=[b[3] - b[2] for b in blocks],
                  marker=dict(color=[kind_colors[b[1]] for b in blocks], line_width=0), orientation='h', width=1, opacity=opacity,
                  xaxis=xaxis, yaxis=yaxis, hoverinfo='skip', showlegend=False)


def labels(items, xaxis, yaxis):
    return go.Scatter(x=[t[1] for t in items], y=[t[0] - 0.06 for t in items], text=[t[2] for t in items], mode='text',
                      textposition='middle center', textfont=dict(size=17.4, color='#333333', family='Liberation Sans'),
                      xaxis=xaxis, yaxis=yaxis, hoverinfo='skip', showlegend=False, cliponaxis=False)


def stripe_blocks(stripes, width):
    out = []
    for row, kind, starts in stripes:
        for s in starts:
            out.append((row, kind, s, s + width))
    return out


def gpu_rows(blocks):
    return [(0, b[0], b[1], b[2]) for b in blocks]


fig = go.Figure()
fig.add_trace(bars(top_t0_blocks, 'x', 'y'))
fig.add_trace(labels(top_t0_labels, 'x', 'y'))
fig.add_trace(bars(top_t1_blocks, 'x', 'y2'))
fig.add_trace(labels(top_t1_labels, 'x', 'y2'))
fig.add_trace(bars(gpu_rows(top_gpu_blocks), 'x', 'y3'))
fig.add_trace(bars([(0, 'cyan', top_trace_span[0], top_trace_span[1])], 'x', 'y4'))
fig.add_trace(labels([(0.04, top_trace_label[0], top_trace_label[1])], 'x', 'y4'))

fig.add_trace(bars(bot_t0_blocks, 'x2', 'y5'))
fig.add_trace(bars(stripe_blocks(bot_t0_stripes, 0.14), 'x2', 'y5', 0.55))
fig.add_trace(bars(bot_t1_blocks, 'x2', 'y6'))
fig.add_trace(bars(stripe_blocks(bot_t1_stripes, 0.14), 'x2', 'y6', 0.6))
fig.add_trace(labels(bot_t1_labels, 'x2', 'y6'))
fig.add_trace(bars(gpu_rows(bot_gpu_blocks), 'x2', 'y7'))
fig.add_trace(bars(stripe_blocks(bot_gpu_lines, 0.1), 'x2', 'y7', 0.7))
fig.add_trace(bars([(0, 'cyan', bot_trace_span[0], bot_trace_span[1])], 'x2', 'y8'))
fig.add_trace(labels([(0.02, bot_trace_label[0], bot_trace_label[1])], 'x2', 'y8'))


def x_axis(left, per_ms, ticks, minor, ruler_y):
    return dict(domain=[px(left), 1], range=[0, (W - left) / per_ms], anchor='free', position=py(ruler_y), side='top',
                tickmode='array', tickvals=ticks, ticks='outside', ticklen=22, tickcolor='#444444', tickwidth=2,
                showticklabels=False, showgrid=False, zeroline=False, showline=True, linecolor='#b8b8b8', linewidth=1,
                minor=dict(tickmode='array', tickvals=minor, ticks='outside', ticklen=4, tickcolor='#444444', tickwidth=2, showgrid=False))


def y_axis(y0, y1, anchor, row_px):
    return dict(domain=[py(y1), py(y0)], range=[(y1 - y0) / row_px - 0.5, -0.5], anchor=anchor, visible=False, fixedrange=True)


shapes = []
annotations = []


def draw_panel(top, ys, text_x, xref, ticks, tick_text, selection, pid, sel_bottom):
    # header gradient, then ruler, then the tracks
    for i in range(10):
        c = 240 - i * 4
        shapes.append(rect(0, top + i * 4.1, W, top + (i + 1) * 4.1, 'rgb(%d,%d,%d)' % (c, c, c)))
    panel_x = text_x['panel']
    shapes.append(rect(0, ys['ruler'], W, ys['ruler'] + 22, '#fafafa'))
    shapes.append(rect(panel_x, ys['ruler'], panel_x + 1.5, ys['ruler'] + 22, '#c8c8c8'))
    tracks = [(ys['t0'], ys['t1'], '#eeeeee'), (ys['t1'], ys['gpu_band'], '#fafafa'),
              (ys['gpu'], ys['pt_band'], '#eeeeee'), (ys['trace'], ys['end'], '#fafafa')]
    for y0, y1, c in tracks:
        shapes.append(rect(panel_x, y0, W, y1, c))
        shapes.append(rect(0, y0, panel_x, y1, '#f5f6f8'))
        shapes.append(rect(panel_x, y0, panel_x + 1.5, y1, '#c8c8c8'))
    shapes.append(rect(text_x['zero'], ys['t1'], W, ys['t1_top'], '#ffffff'))
    for y0 in [ys['cpu_band'], ys['gpu_band'], ys['pt_band']]:
        y1 = y0 + 30
        shapes.append(rect(0, y0, W * 0.5, y1, '#e2e2e2'))
        shapes.append(rect(W * 0.5, y0, W * 0.75, y1, '#dcdcdc'))
        shapes.append(rect(W * 0.75, y0, W, y1, '#d7d7d7'))
        shapes.append(rect(0, y1 - 1, W, y1 + 1, '#cfcfcf'))
    band_text = [(ys['cpu_band'], 'python (pid %s): CPU' % pid, '▼'), (ys['gpu_band'], 'python (pid 0): GPU 0', '▶'),
                 (ys['pt_band'], 'Process Traces', '▼')]
    for y0, text, tri in band_text:
        annotations.append(note(text_x['band'], y0 + 12, text, 21, '#444444'))
        annotations.append(note(text_x['tri'], y0 + 12, tri, 13, '#222222', family='DejaVu Sans'))
    annotations.append(note(text_x['band'] + 11, ys['t0'] + 17, 'thread 0 (python)', 27.8, '#333333'))
    annotations.append(note(text_x['band'] + 11, ys['t1'] + 24, 'thread 1 (python)', 27.8, '#333333'))
    annotations.append(note(text_x['tri'], ys['t0'] + 17, '▼', 18, '#111111', family='DejaVu Sans'))
    annotations.append(note(text_x['tri'], ys['t1'] + 24, '▼', 18, '#111111', family='DejaVu Sans'))
    annotations.append(note(text_x['name'], ys['trace'] + 14.5, 'PyTorch Profiler', 27.7, '#333333'))
    # grid lines and ruler text follow the time axis
    for t, s in zip(ticks, tick_text):
        shapes.append(dict(type='line', xref=xref, yref='paper', x0=t, x1=t, y0=py(ys['cpu_band'] + 30), y1=py(ys['end']),
                           line=dict(color='#e2e2e2', width=1.5), layer='below'))
        annotations.append(dict(xref=xref, yref='paper', x=t, y=py(ys['ruler'] + 9), text=s, showarrow=False, xanchor='left', xshift=0,
                                yanchor='middle', font=dict(size=16.3, color='#444444', family='Liberation Sans')))
    for t, c in zip(selection, ['#e080f8', '#f98fbc']):
        shapes.append(dict(type='line', xref=xref, yref='paper', x0=t, x1=t, y0=py(ys['ruler'] + 22), y1=py(sel_bottom),
                           line=dict(color=c, width=6), layer='above'))


# both panels share the same page furniture
shapes.append(rect(0, 0, W, 6, '#fafafa'))
shapes.append(rect(0, 901, W, 911, '#fafafa'))
draw_panel(6,
           dict(ruler=47, cpu_band=70, t0=100.5, t1=319, t1_top=325.5, gpu_band=613, gpu=644, pt_band=677, trace=707, end=745),
           dict(panel=431, zero=444, band=27, tri=8, name=0),
           'x', top_ticks, top_tick_text, top_selection, '1469', 745)
draw_panel(911,
           dict(ruler=952, cpu_band=975, t0=1006, t1=1225, t1_top=1233, gpu_band=1492, gpu=1522.5, pt_band=1556, trace=1586, end=1624),
           dict(panel=422, zero=440, band=16, tri=-3, name=-7),
           'x2', bot_ticks, bot_tick_text, bot_selection, '6497', 1624)
shapes.append(rect(0, 745, W, 781, '#fafafa'))

# toolbar buttons
for x0, x1, y0, y1, text in [(2247, 2378, 9, 43, 'Flow events'), (2382, 2499, 9, 43, 'Processes'), (2503, 2560, 9, 43, 'M'),
                             (2251, 2383, 912, 947, 'Flow events'), (2387, 2505, 912, 947, 'Processes'), (2510, 2560, 912, 947, 'M')]:
    s = rect(x0, y0, x1, y1, '#f8f8f8')
    s['line'] = dict(color='#c4c4c4', width=1.5)
    shapes.append(s)
    annotations.append(note(x0 + 9, (y0 + y1) / 2 - 0.5, text, 21, '#4a4a4a'))
annotations.append(note(14, 25, 'unknown', 21, '#333333'))
annotations.append(note(4, 928, 'unknown', 21, '#333333'))
annotations.append(note(75, 864, 'GOOD', 34, '#111111', 'right', 'Open Sans'))

# dark buttons clipped by the page bottom
for x0, x1 in [(1110, 1175), (1190, 1441)]:
    path = 'M %f %f L %f %f Q %f %f %f %f L %f %f Q %f %f %f %f L %f %f Z' % (
        px(x0), py(1626), px(x0), py(1610), px(x0), py(1601), px(x0 + 10), py(1601), px(x1 - 10), py(1601),
        px(x1), py(1601), px(x1), py(1610), px(x1), py(1626))
    shapes.append(dict(type='path', xref='paper', yref='paper', path=path, fillcolor='rgba(30,30,30,0.8)', line_width=0, layer='above'))
shapes.append(dict(type='circle', xref='paper', yref='paper', x0=px(1133), x1=px(1155), y0=py(1640), y1=py(1618),
                   line=dict(color='#ffffff', width=2.5), layer='above'))
shapes.append(dict(type='circle', xref='paper', yref='paper', x0=px(1258), x1=px(1276), y0=py(1638), y1=py(1620),
                   fillcolor='#ffffff', line_width=0, layer='above'))
shapes.append(dict(type='line', xref='paper', yref='paper', x0=px(1408), x1=px(1408), y0=py(1624), y1=py(1616),
                   line=dict(color='#ffffff', width=2), layer='above'))

fig.update_layout(
    width=W, height=H, autosize=False, margin=dict(l=0, r=0, t=0, b=0, pad=0),
    paper_bgcolor='#ffffff', plot_bgcolor='rgba(0,0,0,0)', barmode='overlay', bargap=0,
    xaxis=x_axis(444, 2.955, top_ticks, top_minor, 69),
    xaxis2=x_axis(439.6, 13.6, bot_ticks, bot_minor, 973),
    yaxis=y_axis(100.5, 319, 'x', 31.2),
    yaxis2=y_axis(325.5, 613, 'x', 31.2),
    yaxis3=y_axis(644, 676, 'x', 32),
    yaxis4=y_axis(707, 738, 'x', 31),
    yaxis5=y_axis(1006, 1225, 'x2', 31.3),
    yaxis6=y_axis(1233, 1491, 'x2', 31.3),
    yaxis7=y_axis(1523, 1554, 'x2', 31),
    yaxis8=y_axis(1586, 1617, 'x2', 31),
    shapes=shapes, annotations=annotations,
)

fig.write_html("out.html", config=dict(displayModeBar=False),
               post_script="document.body.style.margin='0';document.body.style.overflow='hidden';")
